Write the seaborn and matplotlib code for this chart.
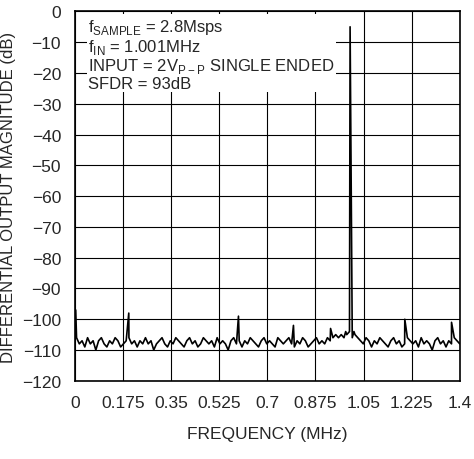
import numpy as np
import matplotlib
matplotlib.use("Agg")
import matplotlib.pyplot as plt
import seaborn as sns

noise_db = [-106,-108,-107,-109,-106,-108,-107,-110,-107,-106,-108,-109,-107,-108,-106,-107,-109,-108,-107,-106,
            -108,-107,-109,-107,-108,-106,-108,-107,-110,-108,-107,-106,-108,-109,-107,-108,-106,-107,-108,-109,
            -107,-106,-108,-107,-109,-108,-106,-107,-108,-107,-109,-106,-108,-107,-108,-110,-107,-106,-108,-107,
            -109,-107,-108,-106,-107,-108,-109,-107,-106,-108,-107,-108,-109,-106,-107,-108,-107,-106,-108,-109,
            -107,-108,-106,-107,-109,-108,-107,-106,-108,-107,-108,-106,-107,-106,-105,-106,-105,-106,-105,-104,
            -106,-105,-106,-107,-108,-106,-107,-109,-107,-108,-106,-107,-108,-109,-107,-106,-108,-107,-109,-108,
            -106,-107,-108,-107,-109,-106,-108,-107,-108,-110,-107,-106,-108,-107,-109,-107,-108,-106,-107,-108]
spur_freq = [0.003, 0.196, 0.595, 0.795, 0.93, 0.985, 1.001, 1.015, 1.2, 1.37]
spur_db = [-97, -98, -99, -102, -103, -104, -5, -104, -100, -101]

freq = np.concatenate([np.linspace(0.006, 1.4, len(noise_db)), spur_freq])
db = np.concatenate([noise_db, spur_db])
order = np.argsort(freq)
freq, db = freq[order], db[order]

sns.set_style("white")
plt.rcParams['font.family'] = ['Liberation Sans', 'DejaVu Sans']

fig = plt.figure(figsize=(4.74, 4.6), dpi=100)
ax = fig.add_axes([0.158, 0.17, 0.812, 0.803])
sns.lineplot(x=freq, y=db, ax=ax, color="black", lw=1.2, estimator=None, sort=False, zorder=5)
ax.set_xlim(0, 1.4)
ax.set_ylim(-120, 0)
xt = [0, 0.175, 0.35, 0.525, 0.7, 0.875, 1.05, 1.225, 1.4]
ax.set_xticks(xt)
ax.set_xticklabels(["0", "0.175", "0.35", "0.525", "0.7", "0.875", "1.05", "1.225", "1.4"])
ax.set_yticks(range(-120, 1, 10))
ax.grid(True, color="black", lw=0.8)
for s in ax.spines.values():
    s.set_color("black"); s.set_linewidth(1.2)
ax.tick_params(labelsize=12.5, length=0, pad=10)
ax.set_xlabel("FREQUENCY (MHz)", fontsize=12.5, labelpad=12)
ax.set_ylabel("DIFFERENTIAL OUTPUT MAGNITUDE (dB)", fontsize=12)
ax.text(0.035, 0.985, "f$_{\\mathregular{SAMPLE}}$ = 2.8Msps\nf$_{\\mathregular{IN}}$ = 1.001MHz\n"
        "INPUT = 2V$_{\\mathregular{P-P}}$ SINGLE ENDED\nSFDR = 93dB",
        transform=ax.transAxes, va="top", ha="left", fontsize=12, linespacing=1.05, zorder=3,
        bbox=dict(facecolor="white", edgecolor="none", pad=1))
fig.savefig("out.png", dpi=100)
